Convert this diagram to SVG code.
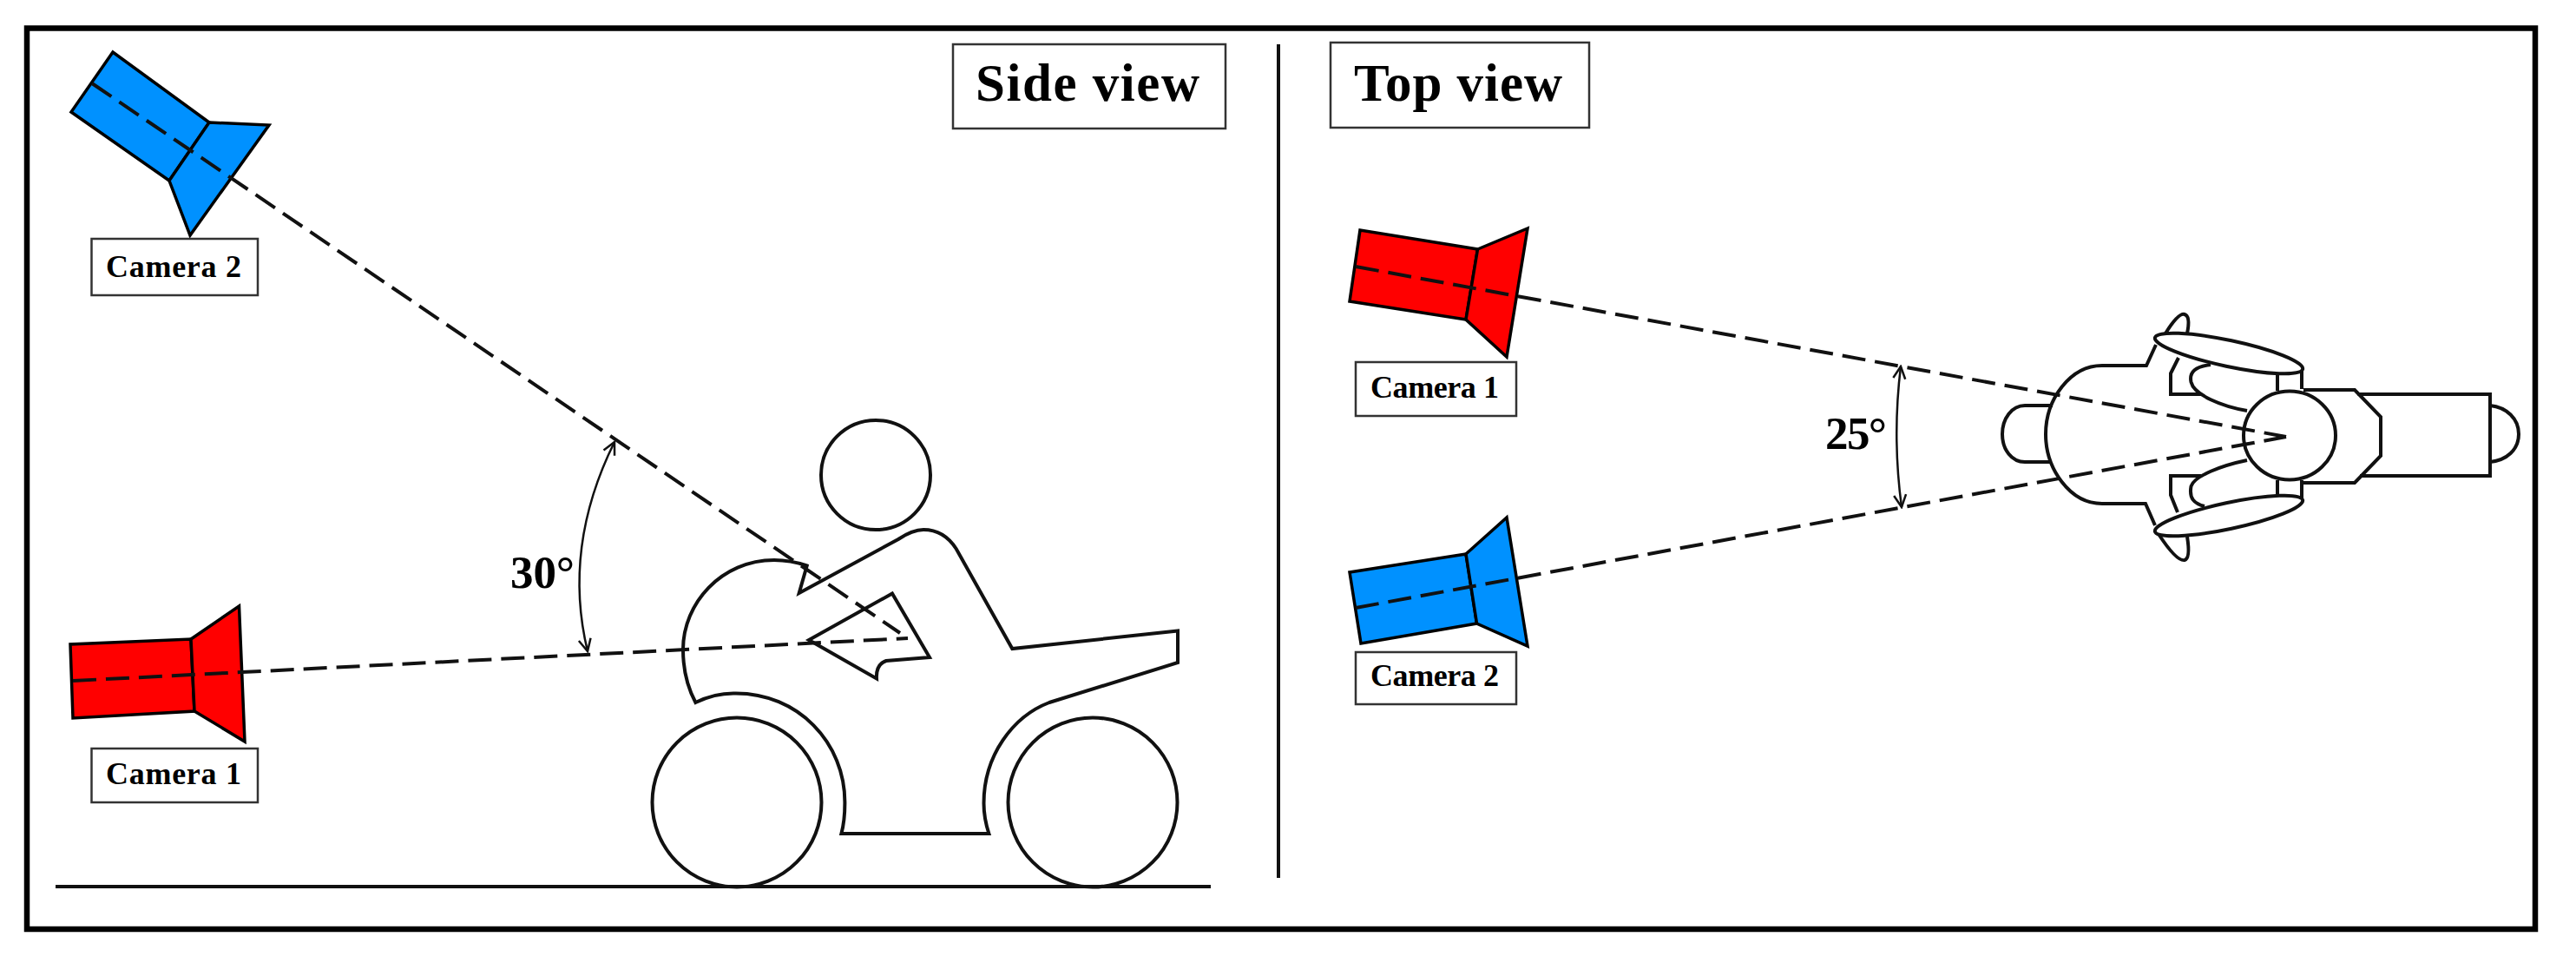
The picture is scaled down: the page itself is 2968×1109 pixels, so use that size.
<svg xmlns="http://www.w3.org/2000/svg" width="2968" height="1109" viewBox="0 0 2968 1109">
<style>
.t{font-family:"Liberation Serif","Times New Roman",serif;font-weight:bold;fill:#000}
.lab{font-size:36px}.head{font-size:61px}.ang{font-size:53px}
.box{fill:#fff;stroke:#333;stroke-width:2.5}
.cam{stroke:#000;stroke-width:3.5;stroke-linejoin:miter}
.red{fill:#f00}.blue{fill:#0091ff}
.o{fill:none;stroke:#111;stroke-width:4}
.w{fill:#fff;stroke:#111;stroke-width:4}
.dash{fill:none;stroke:#111;stroke-width:4;stroke-dasharray:27 11}
.arc{fill:none;stroke:#111;stroke-width:2.5;marker-start:url(#v);marker-end:url(#v)}
</style>
<defs>
<marker id="v" viewBox="-16 -9 18 18" markerUnits="userSpaceOnUse" markerWidth="18" markerHeight="18" refX="0" refY="0" orient="auto-start-reverse"><path d="M-14,-7 L0,0 L-14,7" fill="none" stroke="#111" stroke-width="2.5"/></marker>
</defs>
<rect width="2968" height="1109" fill="#fff"/>
<g id="frame"><rect x="31" y="32.500" width="2890" height="1037.500" fill="none" stroke="#000" stroke-width="6.500"/>
<path d="M1473,51V1011" fill="none" stroke="#111" stroke-width="4"/>
<path d="M64,1021H1395" fill="none" stroke="#111" stroke-width="4"/></g>
<g id="side-view-title"><rect class="box" x="1098" y="51" width="314" height="97"/><text class="t head" x="1124" y="116" textLength="258">Side view</text></g>
<g id="top-view-title"><rect class="box" x="1533" y="49" width="298" height="98"/><text class="t head" x="1560" y="116" textLength="240">Top view</text></g>
<g id="side-camera-2"><polygon class="cam blue" points="130,60 82,129 195,208 241,141"/><polygon class="cam blue" points="241,141 310,144 219,271 195,208"/>
<rect class="box" x="105.500" y="275" width="191.500" height="65"/><text class="t lab" x="122" y="319" textLength="156">Camera 2</text></g>
<g id="side-camera-1"><polygon class="cam red" points="81,742 84,827 224,819 220,736"/><polygon class="cam red" points="220,736 275.500,698 282,854 224,819"/>
<rect class="box" x="105.500" y="862" width="191.500" height="62"/><text class="t lab" x="122" y="903" textLength="156">Camera 1</text></g>
<g id="top-camera-1"><polygon class="cam red" points="1567,265 1555,347 1689,368 1702.500,287"/><polygon class="cam red" points="1702.500,287 1760,263 1736,411 1689,368"/>
<rect class="box" x="1562" y="417" width="185" height="62"/><text class="t lab" x="1579" y="458" textLength="148">Camera 1</text></g>
<g id="top-camera-2"><polygon class="cam blue" points="1555,659 1568,741 1701.500,718 1689,638"/><polygon class="cam blue" points="1689,638 1736,596 1760,744 1701.500,718"/>
<rect class="box" x="1562" y="751" width="185" height="60"/><text class="t lab" x="1579" y="790" textLength="148">Camera 2</text></g>
<g id="side-motorcycle">
<circle class="o" cx="1009" cy="547" r="63"/>
<circle class="o" cx="849" cy="924" r="97.500"/>
<circle class="o" cx="1259" cy="924" r="97.500"/>
<path class="o" d="M801.400,809 Q824,798 847,798.500 C919,798 974,855 973.400,925 Q973.400,945 969.400,960 H1139.400 Q1133.500,942 1133.500,925 C1133.500,870 1167,825 1209,809 L1357,763 V726.500 L1166.300,747 L1101.700,632 C1092.700,618 1079.800,610 1064,610 C1054,610 1044,615 1035,621 L920.700,683 L929.700,651.500 Q910.800,645 892,645 C831,645 787,695 787,748 Q787,782 801.400,809 Z"/>
<path class="o" d="M932,737 L1028,683.500 L1071,757 L1021,761 Q1009,765 1010,781.500 Z"/>
</g>
<g id="top-motorcycle">
<path class="o" d="M2365,467 H2333 C2318,467 2307,482 2307,500 C2307,518 2318,532 2333,532 H2362"/>
<path class="o" d="M2869,467 C2888,469 2902,482 2902,500 C2902,518 2888,530 2869,532"/>
<path class="o" d="M2716.500,454 H2869 V548 H2719"/>
<path class="o" d="M2654,449 H2713 L2743,480 V525 L2713,556 H2652"/>
<path class="o" d="M2484,397 L2473,421 H2422 C2385,421 2357,460 2357,500 C2357,540 2385,580 2422,580 H2472 L2483,605"/>
<path class="o" d="M2495,384 Q2510,360 2517,362 Q2524,364 2520,384"/>
<path class="o" d="M2487,615 Q2508,647 2517,645 Q2524,643 2520,618"/>
<path class="o" d="M2510,412 L2501,430 V454 H2536"/>
<path class="o" d="M2509,590 L2501,570 V548 H2536"/>
<path class="o" d="M2547,420 C2530,422 2522,428 2524.500,440 C2528,455 2560,468 2589,473"/>
<path class="o" d="M2540,583 C2528,580 2522,574 2524.500,560 C2528,548 2560,536 2589,530"/>
<path class="o" d="M2624,430V450M2652,425V448M2624,553V572M2652,553V577"/>
<ellipse class="w" cx="2568" cy="407" rx="87" ry="15" transform="rotate(12 2568 407)"/>
<ellipse class="w" cx="2568" cy="594" rx="87" ry="15" transform="rotate(-12 2568 594)"/>
<ellipse class="w" cx="2638" cy="501.500" rx="53" ry="51"/>
</g>
<g id="connectors">
<path class="dash" d="M106,96 L1037,729"/>
<path class="dash" d="M84,784 L1046,735"/>
<path class="dash" d="M1562,307 L2634,503"/>
<path class="dash" d="M1562,700 L2634,503"/>
<path class="arc" d="M708,509 Q648,630 677,750"/>
<path class="arc" d="M2190,422 Q2180,503 2191,584"/>
</g>
<g id="angle-labels"><text class="t ang" x="588" y="677" textLength="74">30°</text><text class="t ang" x="2103" y="517" textLength="71">25°</text></g>
</svg>
